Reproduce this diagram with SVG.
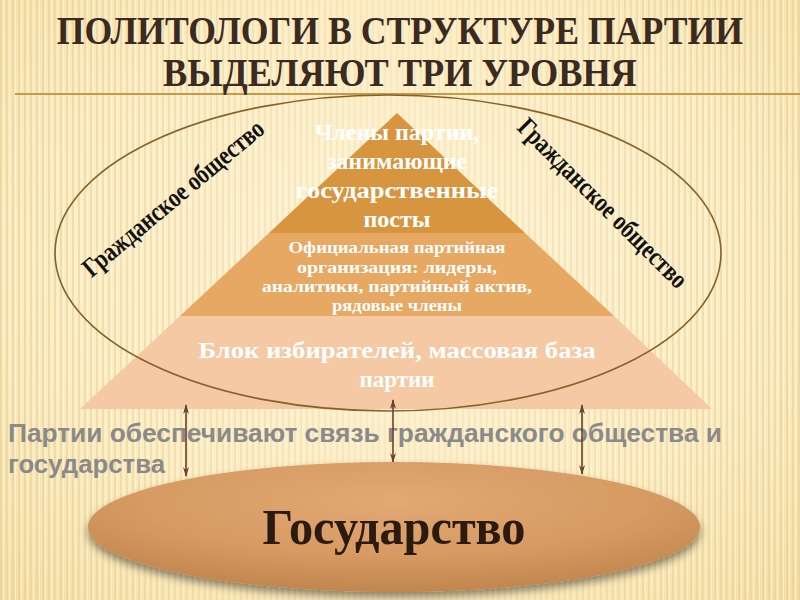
<svg xmlns="http://www.w3.org/2000/svg" width="800" height="600" viewBox="0 0 800 600">
  <defs>
    <radialGradient id="bg" cx="0.5" cy="0.45" r="0.75">
      <stop offset="0" stop-color="#fdf4d8"/>
      <stop offset="0.6" stop-color="#fbecc2"/>
      <stop offset="1" stop-color="#f4dea4"/>
    </radialGradient>
    <pattern id="stripes" width="6" height="600" patternUnits="userSpaceOnUse">
      <rect x="0" y="0" width="2" height="600" fill="#e9cf8e"/>
      <rect x="3" y="0" width="1" height="600" fill="#fffaf0"/>
    </pattern>
    <linearGradient id="stripeMask" x1="0" y1="0" x2="1" y2="0">
      <stop offset="0" stop-color="#fff" stop-opacity="0.6"/>
      <stop offset="0.35" stop-color="#fff" stop-opacity="0.3"/>
      <stop offset="0.5" stop-color="#fff" stop-opacity="0.15"/>
      <stop offset="0.65" stop-color="#fff" stop-opacity="0.3"/>
      <stop offset="1" stop-color="#fff" stop-opacity="0.6"/>
    </linearGradient>
    <mask id="m">
      <rect width="800" height="600" fill="url(#stripeMask)"/>
    </mask>
    <radialGradient id="stateFill" cx="0.5" cy="0.3" r="0.7">
      <stop offset="0" stop-color="#e3a874"/>
      <stop offset="0.6" stop-color="#d69a62"/>
      <stop offset="1" stop-color="#c1854e"/>
    </radialGradient>
    <filter id="shadow" x="-10%" y="-20%" width="120%" height="160%">
      <feGaussianBlur in="SourceAlpha" stdDeviation="4"/>
      <feOffset dx="0" dy="5" result="b"/>
      <feComponentTransfer><feFuncA type="linear" slope="0.45"/></feComponentTransfer>
      <feMerge><feMergeNode/><feMergeNode in="SourceGraphic"/></feMerge>
    </filter>
    <marker id="ah" viewBox="0 0 10 6" refX="9" refY="3" markerWidth="10" markerHeight="6" markerUnits="userSpaceOnUse" orient="auto-start-reverse">
      <path d="M0,0 L10,3 L0,6 L3,3 z" fill="#6e3f2c"/>
    </marker>
    <style>
      .wl{font-family:"Liberation Serif","Times New Roman",serif;font-weight:bold;fill:#ffffff;text-anchor:middle}
      .soc{font-family:"Liberation Serif","Times New Roman",serif;font-weight:bold;font-size:27px;fill:#111;text-anchor:middle}
      .cap{font-family:"Liberation Sans",Arial,sans-serif;font-weight:bold;font-size:25px;fill:#8a8a8a}
      .conn{stroke:#6e3f2c;stroke-width:1.6;fill:none;marker-start:url(#ah);marker-end:url(#ah)}
    </style>
  </defs>

  <g id="background">
    <rect width="800" height="600" fill="url(#bg)"/>
    <rect width="800" height="600" fill="url(#stripes)" mask="url(#m)"/>
    <line x1="15" y1="94" x2="800" y2="94" stroke="#c99a45" stroke-width="2"/>
  </g>

  <g id="title" font-family="'Liberation Serif', 'Times New Roman', serif" font-weight="bold" font-size="40" fill="#3b2a1f" text-anchor="middle" transform="scale(0.86,1)">
    <text x="465" y="44" textLength="798" lengthAdjust="spacingAndGlyphs">ПОЛИТОЛОГИ В СТРУКТУРЕ ПАРТИИ</text>
    <text x="465" y="86" textLength="551" lengthAdjust="spacingAndGlyphs">ВЫДЕЛЯЮТ ТРИ УРОВНЯ</text>
  </g>

  <g id="pyramid">
    <g id="level-top">
      <polygon points="397,113 525,233 269,233" fill="#d8953f"/>
      <text class="wl" font-size="24" x="397" y="140">Члены партии,</text>
      <text class="wl" font-size="24" x="397" y="169">занимающие</text>
      <text class="wl" font-size="24" x="397" y="198" textLength="203" lengthAdjust="spacingAndGlyphs">государственные</text>
      <text class="wl" font-size="24" x="397" y="227">посты</text>
    </g>
    <g id="level-middle">
      <polygon points="269,233 525,233 614,316 180,316" fill="#e6a862"/>
      <text class="wl" font-size="16" x="397" y="253" textLength="217" lengthAdjust="spacingAndGlyphs">Официальная партийная</text>
      <text class="wl" font-size="16" x="397" y="273" textLength="200" lengthAdjust="spacingAndGlyphs">организация: лидеры,</text>
      <text class="wl" font-size="16" x="397" y="292" textLength="270" lengthAdjust="spacingAndGlyphs">аналитики, партийный актив,</text>
      <text class="wl" font-size="16" x="397" y="311" textLength="130" lengthAdjust="spacingAndGlyphs">рядовые члены</text>
    </g>
    <g id="level-bottom">
      <polygon points="180,316 614,316 712,409 80,409" fill="#f4c9a4"/>
      <text class="wl" font-size="23" x="397" y="358" textLength="397" lengthAdjust="spacingAndGlyphs">Блок избирателей, массовая база</text>
      <text class="wl" font-size="23" x="397" y="387">партии</text>
    </g>
  </g>

  <g id="civil-society">
    <ellipse cx="388" cy="253" rx="333" ry="158" fill="none" stroke="#876128" stroke-width="1.6"/>
    <text class="soc" transform="translate(173,198) rotate(-40)" y="9" textLength="228" lengthAdjust="spacingAndGlyphs">Гражданское общество</text>
    <text class="soc" transform="translate(603,203) rotate(45)" y="9" textLength="228" lengthAdjust="spacingAndGlyphs">Гражданское общество</text>
  </g>

  <g id="caption">
    <text class="cap" x="8" y="442" textLength="714" lengthAdjust="spacingAndGlyphs">Партии обеспечивают связь гражданского общества и</text>
    <text class="cap" x="8" y="473" textLength="157" lengthAdjust="spacingAndGlyphs">государства</text>
  </g>

  <g id="connectors">
    <line class="conn" x1="186" y1="405" x2="186" y2="476"/>
    <line class="conn" x1="393" y1="400" x2="393" y2="462"/>
    <line class="conn" x1="582" y1="405" x2="582" y2="474"/>
  </g>

  <g id="state">
    <ellipse cx="394" cy="527" rx="306" ry="65" fill="url(#stateFill)" filter="url(#shadow)"/>
    <text x="394" y="544" font-family="'Liberation Serif','Times New Roman',serif" font-weight="bold" font-size="50" fill="#2b1a10" text-anchor="middle" textLength="263" lengthAdjust="spacingAndGlyphs">Государство</text>
  </g>
</svg>
